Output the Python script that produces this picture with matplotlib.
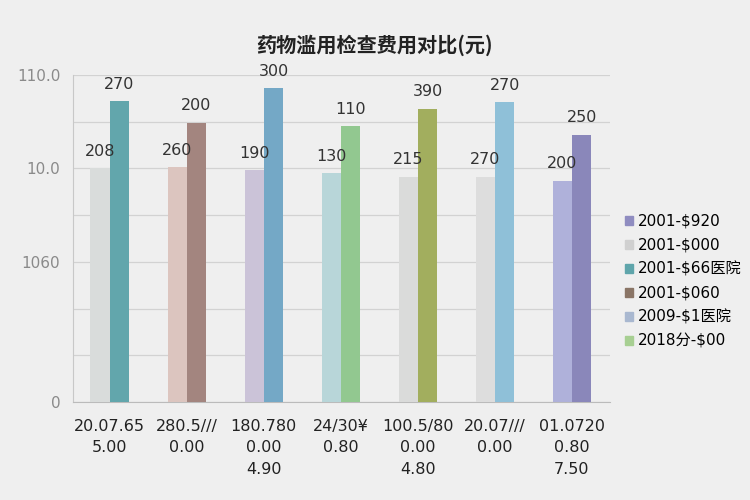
import matplotlib
matplotlib.use('Agg')
import numpy as np
import matplotlib.pyplot as plt
from matplotlib.patches import Patch

plt.rcParams['font.family'] = ['DejaVu Sans', 'Noto Sans CJK SC']

# data
categories = ['20.07.65\n5.00', '280.5///\n0.00', '180.780\n0.00\n4.90', '24/30¥\n0.80',
              '100.5/80\n0.00\n4.80', '20.07///\n0.00', '01.0720\n0.80\n7.50']
left_vals = [250, 251, 248, 245, 241, 241, 237]
right_vals = [322, 299, 336, 295, 314, 321, 286]
left_labels = ['208', '260', '190', '130', '215', '270', '200']
right_labels = ['270', '200', '300', '110', '390', '270', '250']
left_colors = ['#d9dcdb', '#dcc5bf', '#cbc3d8', '#b8d6d9', '#dadbda', '#dddddd', '#afb1da']
right_colors = ['#62a6ac', '#a3857f', '#74a8c6', '#92c890', '#a2ae5e', '#8fc0d8', '#8a87ba']
y_ticks = [0, 50, 100, 150, 200, 250, 300, 350]
y_tick_labels = ['0', '', '', '1060', '', '10.0', '', '110.0']
legend_labels = ['2001-$920', '2001-$000', '2001-$66医院', '2001-$060', '2009-$1医院', '2018分-$00']
legend_colors = ['#8f8cc0', '#d0d0d0', '#5fa5ab', '#8a7566', '#a9b8d0', '#a7cf92']

fig = plt.figure(figsize=(7.5, 5), dpi=100, facecolor='#efefef')
ax = fig.add_axes([0.097, 0.196, 0.716, 0.654])
ax.set_facecolor('#efefef')

x = np.arange(len(categories))
w = 0.25
ax.bar(x - w / 2, left_vals, w, color=left_colors, zorder=3)
ax.bar(x + w / 2, right_vals, w, color=right_colors, zorder=3)

for i in range(len(categories)):
    ax.text(x[i] - w / 2, left_vals[i] + 10, left_labels[i], ha='center', va='bottom',
            fontsize=11.5, color='#333333')
    ax.text(x[i] + w / 2, right_vals[i] + 10, right_labels[i], ha='center', va='bottom',
            fontsize=11.5, color='#333333')

ax.set_xlim(-0.48, 6.49)
ax.set_ylim(0, 350)
ax.set_yticks(y_ticks)
ax.set_yticklabels(y_tick_labels, color='#8a8a8a', fontsize=11)
ax.set_xticks(x)
ax.set_xticklabels(categories, fontsize=11.5, color='#222222', linespacing=1.55)
ax.tick_params(axis='x', length=0, pad=12)
ax.tick_params(axis='y', length=0, pad=9)
ax.grid(axis='y', color='#d2d2d2', linewidth=0.9, zorder=0)
for side in ['top', 'right']:
    ax.spines[side].set_visible(False)
ax.spines['left'].set_color('#c8c8c8')
ax.spines['bottom'].set_color('#bbbbbb')

fig.text(0.5, 0.91, '药物滥用检查费用对比(元)', ha='center', va='center', fontsize=14.5,
         fontweight='bold', color='#222222', family=['Noto Sans CJK SC', 'DejaVu Sans'])

handles = [Patch(color=c) for c in legend_colors]
fig.legend(handles, legend_labels, loc='upper left', bbox_to_anchor=(0.815, 0.6),
           frameon=False, fontsize=11, handlelength=0.55, handleheight=0.55,
           handletextpad=0.3, labelspacing=0.58)

fig.savefig('out.png', dpi=100, facecolor=fig.get_facecolor())
